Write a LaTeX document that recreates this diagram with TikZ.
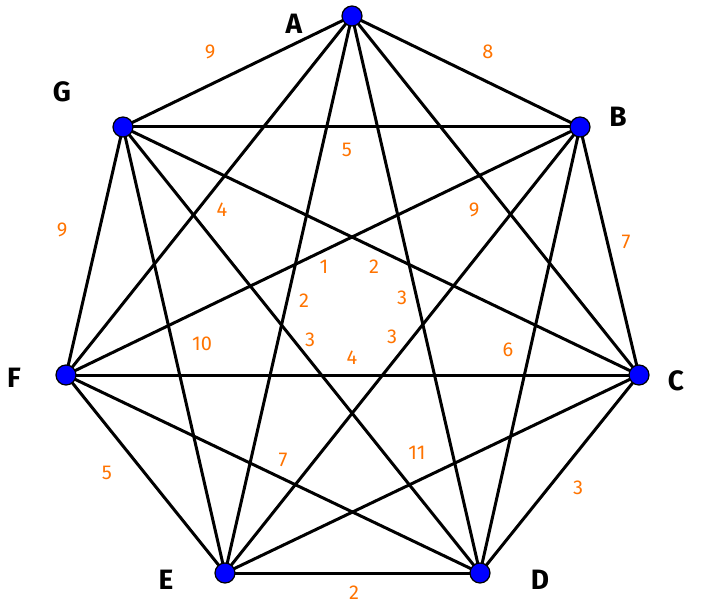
\documentclass[tikz,border=0pt]{standalone}
\usepackage{fontspec}
\setmainfont{Fira Sans}
\begin{document}
\begin{tikzpicture}[x=1pt,y=-1pt,
 vtx/.style={circle,fill=blue,draw=black,line width=1.2pt,inner sep=0pt,minimum size=20pt},
 edge/.style={line width=3pt,black},
 wl/.style={text=orange!90!red,font=\fontsize{20}{22}\selectfont},
 vl/.style={font=\fontsize{28}{30}\selectfont\bfseries}]
\useasboundingbox (0,0) rectangle (704,607);
\coordinate (A) at (352,16);
\coordinate (B) at (580,127);
\coordinate (C) at (639,375);
\coordinate (D) at (480,573);
\coordinate (E) at (225,573);
\coordinate (F) at (66,375);
\coordinate (G) at (123,127);
\foreach \u/\v in {A/B,A/C,A/D,A/E,A/F,A/G,B/C,B/D,B/E,B/F,B/G,C/D,C/E,C/F,C/G,D/E,D/F,D/G,E/F,E/G,F/G}
  \draw[edge] (\u) -- (\v);
\foreach \n in {A,B,C,D,E,F,G}
  \node[vtx] (v\n) at (\n) {};
\node[vl] (lA) at (294,24) {A};
\node[vl] (lB) at (618,117) {B};
\node[vl] (lC) at (676,381) {C};
\node[vl] (lD) at (540,580) {D};
\node[vl] (lE) at (166,580) {E};
\node[vl] (lF) at (14,378) {F};
\node[vl] (lG) at (62,92) {G};
\node[wl] (w1) at (210,52) {9};
\node[wl] (w2) at (488,52) {8};
\node[wl] (w3) at (347,150) {5};
\node[wl] (w4) at (222,210) {4};
\node[wl] (w5) at (474,210) {9};
\node[wl] (w6) at (62,230) {9};
\node[wl] (w7) at (626,242) {7};
\node[wl] (w8) at (324,267) {1};
\node[wl] (w9) at (374,267) {2};
\node[wl] (w10) at (304,301) {2};
\node[wl] (w11) at (402,298) {3};
\node[wl] (w12) at (310,340) {3};
\node[wl] (w13) at (392,337) {3};
\node[wl] (w14) at (352,358) {4};
\node[wl] (w15) at (202,344) {10};
\node[wl] (w16) at (508,350) {6};
\node[wl] (w17) at (283,460) {7};
\node[wl] (w18) at (417,453) {11};
\node[wl] (w19) at (107,473) {5};
\node[wl] (w20) at (578,488) {3};
\node[wl] (w21) at (354,593) {2};
\end{tikzpicture}
\end{document}
